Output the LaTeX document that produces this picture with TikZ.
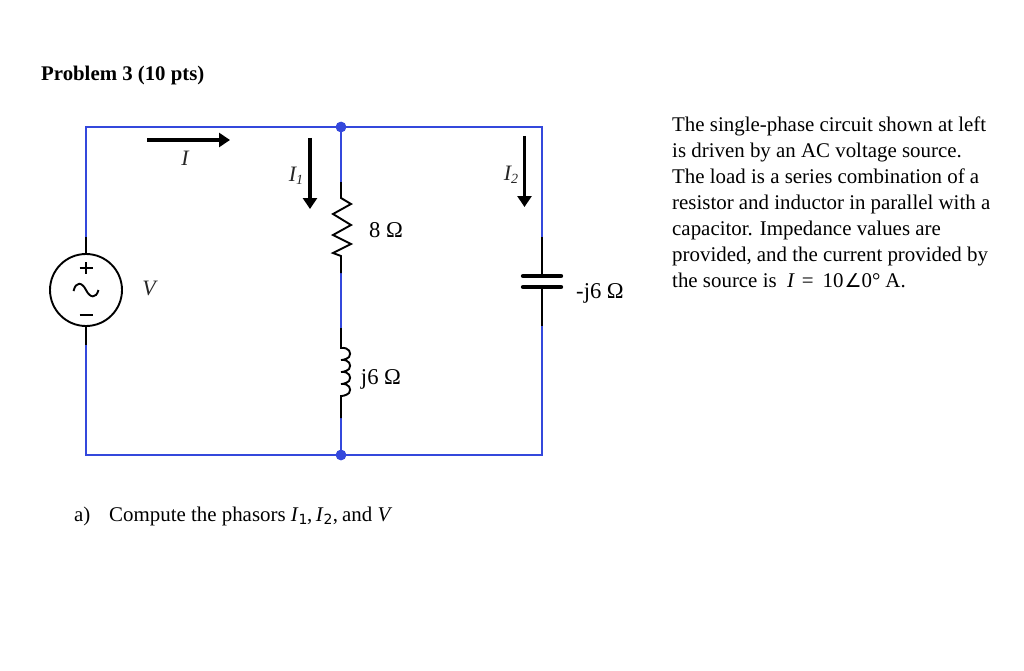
\documentclass[tikz,border=0pt]{standalone}
\usepackage{fontspec}
\setmainfont{Liberation Serif}
\newfontfamily\dejavu{DejaVu Sans}
\usetikzlibrary{arrows.meta}
\definecolor{wireblue}{RGB}{52,72,220}
\tikzset{
  wire/.style={draw=wireblue,line width=2pt},
  lead/.style={draw=black,line width=1.9pt},
  dot/.style={circle,fill=wireblue,inner sep=0pt,minimum size=10.5pt},
  plate/.style={draw=black,line width=4.4pt,line cap=round},
  current/.style={draw=black,line width=3.4pt,-{Triangle[length=11pt,width=14pt]}},
  lab/.style={inner sep=0pt,font=\fontsize{20.9}{25.9}\selectfont},
  val/.style={inner sep=0pt,font=\fontsize{22.6}{26}\selectfont},
  sym/.style={inner sep=0pt,font=\fontsize{22}{25}\selectfont\itshape,text=black!85},
  source/.style={circle,draw=black,line width=1.9pt,minimum size=72pt,inner sep=0pt},
}
\begin{document}
\begin{tikzpicture}[x=1pt,y=-1pt]
\useasboundingbox[fill=white] (0,0) rectangle (1024,671);
% coordinates
\coordinate (tl) at (86,127);
\coordinate (bl) at (86,455);
\coordinate (tr) at (542,127);
\coordinate (br) at (542,455);
\node[dot] (top) at (341,127) {};
\node[dot] (bot) at (341,455) {};
\node[source] (src) at (86,290) {};
\coordinate (srcT) at (86,237);
\coordinate (srcB) at (86,345);
\coordinate (rT) at (341,182);
\coordinate (rB) at (341,273);
\coordinate (rA) at (341,198);
\coordinate (rC) at (341,256);
\coordinate (lT) at (341,328);
\coordinate (lA) at (341,348);
\coordinate (lC) at (341,396);
\coordinate (lB) at (341,418);
\coordinate (cT) at (542,237);
\coordinate (cB) at (542,326);
\coordinate (p1) at (542,276);
\coordinate (p2) at (542,287);
% blue wires
\draw[wire] (srcT) -- (tl) -- (top) -- (tr) -- (cT);
\draw[wire] (cB) -- (br) -- (bot) -- (bl) -- (srcB);
\draw[wire] (top) -- (rT);
\draw[wire] (rB) -- (lT);
\draw[wire] (lB) -- (bot);
\node[dot] at (top) {};
\node[dot] at (bot) {};
% source
\draw[lead] (srcT) -- (src);
\draw[lead] (src) -- (srcB);
\draw[lead] (86,262) -- (86,274) (79.5,268) -- (92.5,268);
\draw[lead] (79.5,315) -- (92.5,315);
\draw[lead] (73.5,291) .. controls (76,281) and (82,282) .. (86,290) .. controls (90,298) and (96,299) .. (98.5,290);
% resistor
\draw[lead,line join=miter] (rT) -- (rA) -- (351,204) -- (333,214) -- (351,225) -- (333,235) -- (351,244) -- (333,253) -- (rC) -- (rB);
% inductor
\draw[lead] (lT) -- (lA)
  .. controls (349,347) and (352,353) .. (349,357) .. controls (346,360) and (341,360) .. (341,360)
  .. controls (349,359) and (352,365) .. (349,369) .. controls (346,372) and (341,372) .. (341,372)
  .. controls (349,371) and (352,377) .. (349,381) .. controls (346,384) and (341,384) .. (341,384)
  .. controls (349,383) and (352,389) .. (349,393) .. controls (346,396) and (341,396) .. (lC)
  -- (lB);
% capacitor
\draw[lead] (cT) -- (p1);
\draw[lead] (p2) -- (cB);
\draw[plate] (523,276) -- (561,276);
\draw[plate] (523,287) -- (561,287);
% current arrows
\coordinate (iA) at (147,140); \coordinate (iB) at (230,140);
\coordinate (i1A) at (310,138); \coordinate (i1B) at (310,209);
\coordinate (i2A) at (524.5,136); \coordinate (i2B) at (524.5,207);
\draw[current] (iA) -- (iB);
\draw[current] (i1A) -- (i1B);
\draw[current] (i2A) -- (i2B);
% labels
\node[sym] (lI) at (185,158) {I};
\node[sym] (lI1) at (296,176) {I\raisebox{-3pt}{\fontsize{14}{14}\selectfont 1}};
\node[sym] (lI2) at (511,175) {I\raisebox{-3pt}{\fontsize{14}{14}\selectfont 2}};
\node[sym] (lV) at (149,288) {V};
\node[val,anchor=base] (r8) at (386,237) {8 Ω};
\node[val,anchor=base] (rj) at (381,384) {j6 Ω};
\node[val,anchor=base] (rc) at (600,298) {-j6 Ω};
% text
\node[inner sep=0pt,anchor=base west,font=\fontsize{20.8}{25}\bfseries\selectfont] (title) at (41,81) {Problem 3 (10 pts)};
\node[lab,anchor=base west] (qa) at (74,521) {a)};
\node[lab,anchor=base west] (qb) at (109,521) {Compute the phasors \textit{I}\raisebox{-3pt}{\fontsize{14}{14}\selectfont\dejavu 1}\kern-0.5pt,\,\textit{I}\raisebox{-3pt}{\fontsize{14}{14}\selectfont\dejavu 2}\kern0.5pt,\kern4pt and \textit{V}};
\node[lab,anchor=base west] (ta) at (672,131.5) {The single-phase circuit shown at left};
\node[lab,anchor=base west] (tb) at (672,157.5) {is driven by an AC voltage source.};
\node[lab,anchor=base west] (tc) at (672,183.5) {The load is a series combination of a};
\node[lab,anchor=base west] (td) at (672,209.5) {resistor and inductor in parallel with a};
\node[lab,anchor=base west] (te) at (672,235.5) {capacitor. Impedance values are};
\node[lab,anchor=base west] (tf) at (672,261.5) {provided, and the current provided by};
\node[lab,anchor=base west] (tg) at (672,287.5) {the source is\ \ \textit{I}\kern7pt=\kern9pt10\kern1pt{\dejavu\fontsize{19}{20}\selectfont ∠}0°\kern5pt A.};
\end{tikzpicture}
\end{document}
